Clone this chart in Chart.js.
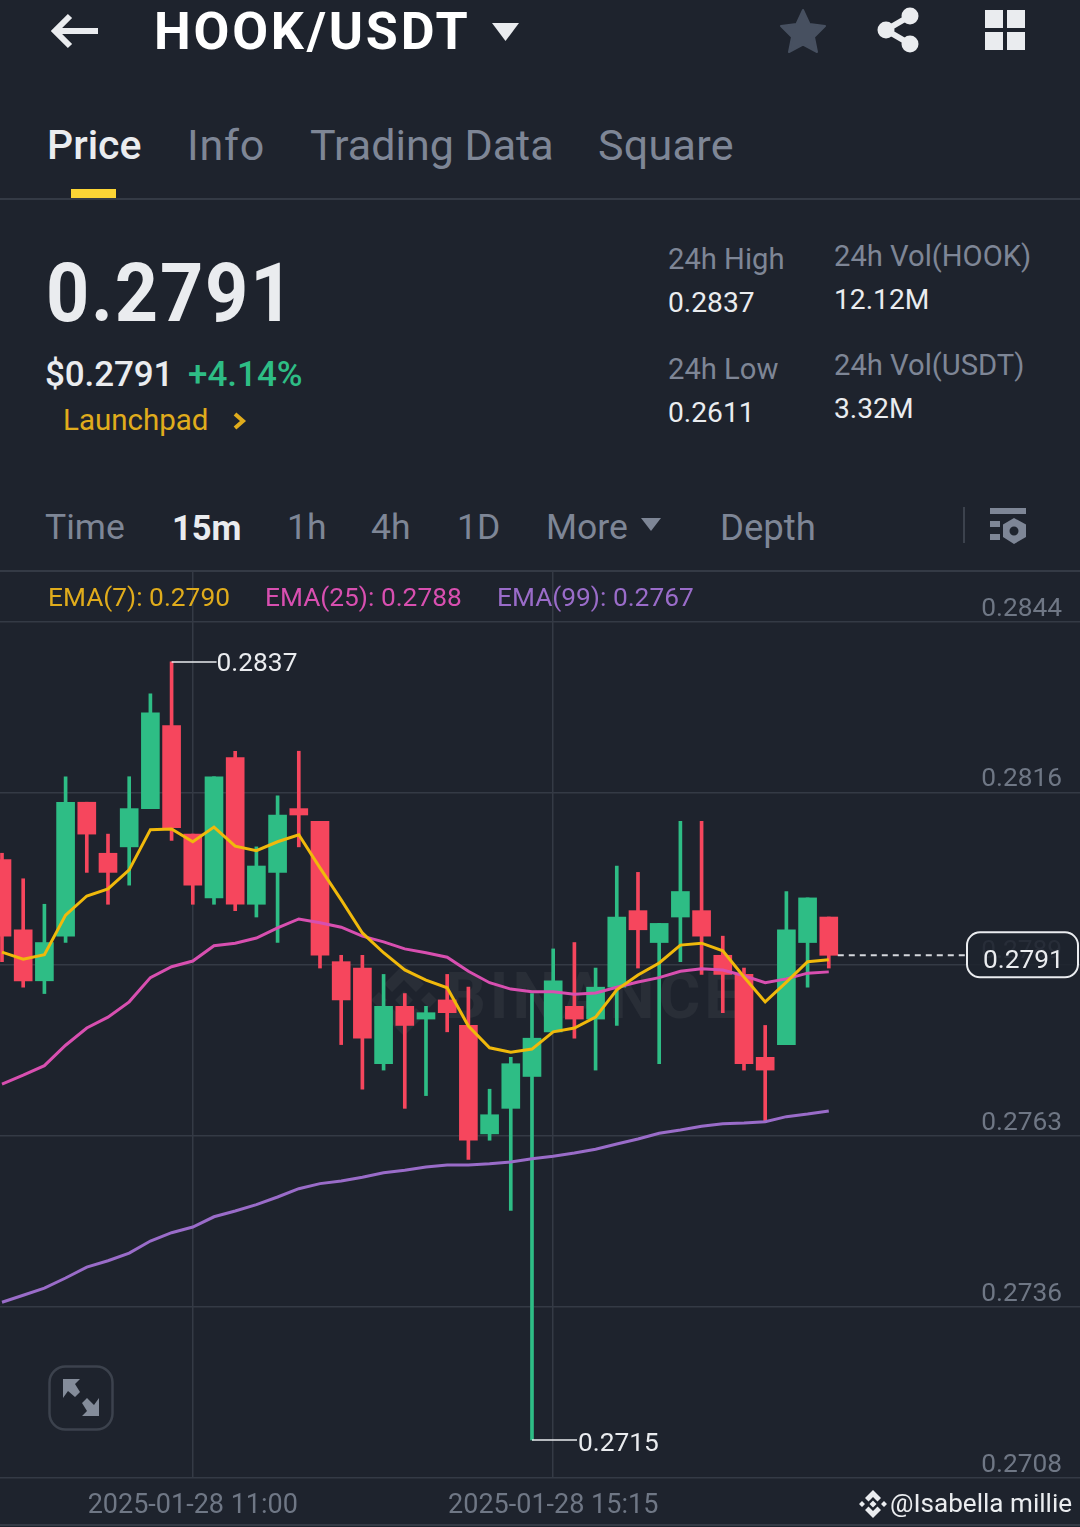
<!DOCTYPE html>
<html>
<head>
<meta charset="utf-8">
<title>HOOK/USDT</title>
<script src="https://cdn.jsdelivr.net/npm/chart.js@4"></script>
<style>
	html, body { margin: 0; padding: 0; background: #1e232d; }
	body { position: relative; width: 1080px; height: 1527px; overflow: hidden; font-family: Roboto, sans-serif; }
	.t { position: absolute; white-space: nowrap; line-height: 1; transform: translateY(-50%); }
	.line { position: absolute; left: 0; width: 1080px; height: 2px; background: #343a45; }
	.grey { color: #7e8696; }
	.light { color: #eaecef; }
	svg { position: absolute; }
	#chartBox { position: absolute; left: 0; top: 572px; width: 1080px; height: 955px; }
</style>
</head>
<body>

<svg style="left:50px;top:12px" width="50" height="38" viewBox="0 0 50 38"><path d="M20 4 L5 19 L20 34 M6 19 H48" fill="none" stroke="#eaecef" stroke-width="6"/></svg>
<div class="t" style="left:154px;top:32px;font-size:52px;font-weight:700;color:#fff;letter-spacing:2.8px">HOOK/USDT</div>
<svg style="left:490px;top:20px" width="32" height="24"><path d="M2 3 H29 L15.5 21 Z" fill="#eaecef"/></svg>
<svg style="left:778px;top:8px" width="50" height="46" viewBox="0 0 50 46"><path d="M25 2 L31.5 16 L47 18 L36 29 L39 44 L25 36.5 L11 44 L14 29 L3 18 L18.5 16 Z" fill="#475060" stroke="#475060" stroke-width="2" stroke-linejoin="round"/></svg>
<svg style="left:876px;top:6px" width="46" height="48"><path d="M34 10 L10 24 L34 38" fill="none" stroke="#eaecef" stroke-width="6"/><circle cx="34" cy="10" r="8.5" fill="#eaecef"/><circle cx="10" cy="24" r="8.5" fill="#eaecef"/><circle cx="34" cy="38" r="8.5" fill="#eaecef"/></svg>
<svg style="left:985px;top:10px" width="41" height="41"><rect x="0" y="0" width="18" height="18" fill="#eaecef"/><rect x="22" y="0" width="18" height="18" fill="#eaecef"/><rect x="0" y="22" width="18" height="18" fill="#eaecef"/><rect x="22" y="22" width="18" height="18" fill="#eaecef"/></svg>

<div class="t" style="left:47px;top:145px;font-size:41px;font-weight:500;color:#eaecef">Price</div>
<div class="t grey" style="left:187px;top:145px;font-size:43px;letter-spacing:0.8px">Info</div>
<div class="t grey" style="left:310px;top:145px;font-size:43px">Trading Data</div>
<div class="t grey" style="left:598px;top:145px;font-size:43px;letter-spacing:0.3px">Square</div>
<div style="position:absolute;left:71px;top:189px;width:45px;height:9px;background:#fcd535"></div>
<div class="line" style="top:198px"></div>

<div class="t" style="left:46px;top:293px;font-size:82px;font-weight:700;color:#eaecef;letter-spacing:2px;transform-origin:left center;transform:translateY(-50%) scaleX(0.92)">0.2791</div>
<div class="t light" style="left:45px;top:374px;font-size:35px;font-weight:500;letter-spacing:-0.1px">$0.2791</div>
<div class="t" style="left:188px;top:374px;font-size:35px;font-weight:500;color:#2ebd85">+4.14%</div>
<div class="t" style="left:63px;top:421px;font-size:29.5px;color:#e0ac1c">Launchpad</div>
<svg style="left:232px;top:411px" width="16" height="20"><path d="M3 3 L11 10 L3 17" fill="none" stroke="#e0ac1c" stroke-width="4"/></svg>

<div class="t grey" style="left:668px;top:260px;font-size:29.2px">24h High</div>
<div class="t light" style="left:668px;top:303px;font-size:28.2px">0.2837</div>
<div class="t grey" style="left:668px;top:370px;font-size:29.2px">24h Low</div>
<div class="t light" style="left:668px;top:413px;font-size:28.2px">0.2611</div>
<div class="t grey" style="left:834px;top:257px;font-size:29.2px">24h Vol(HOOK)</div>
<div class="t light" style="left:834px;top:300px;font-size:28.2px">12.12M</div>
<div class="t grey" style="left:834px;top:366px;font-size:29.2px">24h Vol(USDT)</div>
<div class="t light" style="left:834px;top:409px;font-size:28.2px">3.32M</div>

<div class="t grey" style="left:45px;top:528px;font-size:35.5px">Time</div>
<div class="t light" style="left:172px;top:528px;font-size:34.5px;font-weight:700">15m</div>
<div class="t grey" style="left:287px;top:528px;font-size:35.5px">1h</div>
<div class="t grey" style="left:371px;top:528px;font-size:35.5px">4h</div>
<div class="t grey" style="left:457px;top:528px;font-size:35.5px">1D</div>
<div class="t grey" style="left:546px;top:528px;font-size:35.5px">More</div>
<svg style="left:640px;top:517px" width="22" height="16"><path d="M1 1 H21 L11 14 Z" fill="#7e8696"/></svg>
<div class="t grey" style="left:720px;top:528px;font-size:36.5px">Depth</div>
<div style="position:absolute;left:963px;top:507px;width:2px;height:36px;background:#3c424d"></div>
<svg style="left:990px;top:507px" width="38" height="38"><rect x="0" y="1" width="36" height="6" fill="#7e8696"/><rect x="0" y="14" width="10" height="6" fill="#7e8696"/><rect x="0" y="27" width="10" height="6" fill="#7e8696"/><path d="M24 11 L36 17.5 V30 L24 37 L13 30 V17.5 Z M24 19.5 A4.5 4.5 0 1 0 24 28.5 A4.5 4.5 0 1 0 24 19.5 Z" fill="#7e8696" fill-rule="evenodd"/></svg>

<div class="line" style="top:570px"></div>

<div id="chartBox"><canvas id="canvasCandles" width="1080" height="955"></canvas></div>

<div class="t" style="left:48px;top:597px;font-size:26.3px;color:#e0ac1c">EMA(7): 0.2790</div>
<div class="t" style="left:265px;top:597px;font-size:26.3px;color:#d84fb0">EMA(25): 0.2788</div>
<div class="t" style="left:497px;top:597px;font-size:26.3px;color:#9a6cc9">EMA(99): 0.2767</div>

<svg style="left:48px;top:1365px" width="66" height="66"><rect x="1.5" y="1.5" width="63" height="63" rx="16" fill="none" stroke="#3c424d" stroke-width="2.5"/><path d="M15 14 H32 L27 19 L32 27 L27 32 L20 26 L15 33 Z M51 51 H34 L39 46 L34 38 L39 33 L46 40 L51 33 Z" fill="#848c9a"/></svg>

<svg style="left:858px;top:1489px" width="30" height="30"><path d="M15 1 L23 9 L19.5 12.5 L15 8 L10.5 12.5 L7 9 Z M15 29 L23 21 L19.5 17.5 L15 22 L10.5 17.5 L7 21 Z M15 11.5 L18.5 15 L15 18.5 L11.5 15 Z M4 12 L7 15 L4 18 L1 15 Z M26 12 L29 15 L26 18 L23 15 Z" fill="#eaecef"/></svg>
<div class="t light" style="left:890px;top:1503px;font-size:26.1px">@Isabella millie</div>
<div class="line" style="top:1524px"></div>

<script>
"use strict"

// one candle per 15m, first one 2025-01-28 08:45
const candleIndex = [0,1,2,3,4,5,6,7,8,9,10,11,12,13,14,15,16,17,18,19,20,21,22,23,24,25,26,27,28,29,30,31,32,33,34,35,36,37,38,39]
const opens = [0.2806,0.2795,0.2787,0.2794,0.2815,0.2807,0.2808,0.2814,0.2827,0.2810,0.2800,0.2822,0.2799,0.2804,0.2814,0.2812,0.2790,0.2789,0.2774,0.2783,0.2781,0.2784,0.2780,0.2763,0.2767,0.2772,0.2779,0.2783,0.2781,0.2786,0.2798,0.2793,0.2797,0.2798,0.2791,0.2788,0.2775,0.2777,0.2793,0.2797]
const highs = [0.2807,0.2803,0.2799,0.2819,0.2815,0.2810,0.2819,0.2832,0.2837,0.2810,0.2819,0.2823,0.2808,0.2816,0.2823,0.2812,0.2791,0.2791,0.2788,0.2785,0.2783,0.2788,0.2786,0.2770,0.2775,0.2785,0.2792,0.2793,0.2789,0.2805,0.2804,0.2796,0.2812,0.2812,0.2794,0.2789,0.2780,0.2801,0.2800,0.2797]
const lows = [0.2790,0.2786,0.2785,0.2793,0.2804,0.2799,0.2802,0.2814,0.2809,0.2799,0.2799,0.2798,0.2797,0.2793,0.2808,0.2789,0.2777,0.2770,0.2773,0.2767,0.2769,0.2779,0.2759,0.2762,0.2751,0.2715,0.2779,0.2778,0.2773,0.2780,0.2789,0.2774,0.2790,0.2788,0.2782,0.2773,0.2765,0.2777,0.2786,0.2789]
const closes = [0.2794,0.2787,0.2793,0.2815,0.2810,0.2804,0.2814,0.2829,0.2811,0.2802,0.2819,0.2799,0.2805,0.2813,0.2813,0.2791,0.2784,0.2778,0.2783,0.2780,0.2782,0.2782,0.2762,0.2766,0.2774,0.2778,0.2787,0.2781,0.2786,0.2797,0.2795,0.2796,0.2801,0.2794,0.2788,0.2774,0.2773,0.2795,0.2800,0.2791]

const ema7 = [0.27915,0.27904,0.27911,0.27973,0.28003,0.28014,0.28044,0.28107,0.28108,0.28088,0.28111,0.28081,0.28074,0.28088,0.28099,0.28047,0.27997,0.27945,0.27914,0.27887,0.27871,0.27859,0.27799,0.27765,0.27758,0.27763,0.27790,0.27796,0.27813,0.27856,0.27879,0.27898,0.27926,0.27929,0.27917,0.27876,0.27837,0.27868,0.27900,0.27903]
const ema25 = [0.27708,0.27722,0.27737,0.27769,0.27796,0.27813,0.27837,0.27875,0.27892,0.27901,0.27925,0.27929,0.27937,0.27953,0.27967,0.27961,0.27954,0.27940,0.27931,0.27920,0.27914,0.27907,0.27885,0.27867,0.27857,0.27853,0.27853,0.27849,0.27851,0.27860,0.27868,0.27875,0.27885,0.27889,0.27887,0.27878,0.27867,0.27873,0.27882,0.27884]
const ema99 = [0.27366,0.27377,0.27388,0.27404,0.27421,0.27431,0.27443,0.27462,0.27475,0.27484,0.27500,0.27509,0.27519,0.27531,0.27544,0.27552,0.27556,0.27562,0.27569,0.27573,0.27578,0.27581,0.27581,0.27583,0.27586,0.27591,0.27595,0.27600,0.27606,0.27614,0.27622,0.27631,0.27636,0.27642,0.27646,0.27647,0.27649,0.27657,0.27661,0.27666]

const priceTicks = [0.284327,0.281646,0.278949,0.276267,0.273586,0.270904]
const priceTickLabels = ['0.2844','0.2816','0.2789','0.2763','0.2736','0.2708']
const timeTicks = [9,26]
const timeTickLabels = ['2025-01-28 11:00','2025-01-28 15:15']

const highIndex = 8
const highLabel = '0.2837'
const lowIndex = 25
const lowLabel = '0.2715'
const lastPrice = 0.2791
const lastLabel = '0.2791'

const upColor = '#2ebd85'
const downColor = '#f6465d'
const gridColor = '#343a45'
const tickColor = '#6f7785'
const fontName = 'Roboto, sans-serif'

function CandleColors() {
	return candleIndex.map(function (i) {
		return closes[i] >= opens[i] ? upColor : downColor
	})
}

function EmaDataset(values, color) {
	return {
		type: 'line',
		data: candleIndex.map(function (i) { return { x: i, y: values[i] } }),
		borderColor: color,
		borderWidth: 3,
		pointRadius: 0,
		tension: 0,
		order: 1
	}
}

// watermark under the candles, price labels on top
const overlayPlugin = {
	id: 'overlay',
	beforeDatasetsDraw: function (chart) {
		const ctx = chart.ctx
		ctx.save()
		ctx.fillStyle = 'rgba(255,255,255,0.05)'
		ctx.font = '700 64px ' + fontName
		ctx.letterSpacing = '4px'
		ctx.textBaseline = 'middle'
		ctx.fillText('BINANCE', 445, 430)
		ctx.translate(404, 428)
		const logo = new Path2D('M0 -36 L20 -16 L12 -8 L0 -20 L-12 -8 L-20 -16 Z M0 36 L20 16 L12 8 L0 20 L-12 8 L-20 16 Z M0 -9 L9 0 L0 9 L-9 0 Z M-25 -8 L-17 0 L-25 8 L-33 0 Z M25 -8 L33 0 L25 8 L17 0 Z')
		ctx.fill(logo)
		ctx.restore()
	},
	afterDraw: function (chart) {
		const ctx = chart.ctx
		const x = chart.scales.x
		const y = chart.scales.y
		ctx.save()
		ctx.font = '26.3px ' + fontName
		ctx.textBaseline = 'middle'
		ctx.strokeStyle = '#eaecef'
		ctx.fillStyle = '#eaecef'
		ctx.lineWidth = 1.5

		let px = x.getPixelForValue(highIndex)
		let py = y.getPixelForValue(highs[highIndex])
		ctx.beginPath()
		ctx.moveTo(px, py)
		ctx.lineTo(px + 45, py)
		ctx.stroke()
		ctx.fillText(highLabel, px + 45, py + 3)

		px = x.getPixelForValue(lowIndex)
		py = y.getPixelForValue(lows[lowIndex])
		ctx.beginPath()
		ctx.moveTo(px, py)
		ctx.lineTo(px + 45, py)
		ctx.stroke()
		ctx.fillText(lowLabel, px + 46, py + 4)

		px = x.getPixelForValue(candleIndex.length - 1) + 9
		py = y.getPixelForValue(lastPrice)
		ctx.lineWidth = 2
		ctx.strokeStyle = '#d5d8dd'
		ctx.setLineDash([6, 5])
		ctx.beginPath()
		ctx.moveTo(px, py)
		ctx.lineTo(966, py)
		ctx.stroke()
		ctx.setLineDash([])

		ctx.beginPath()
		ctx.roundRect(967, py - 23, 111, 45, 13)
		ctx.fillStyle = 'rgba(30,35,45,0.88)'
		ctx.fill()
		ctx.strokeStyle = '#eaecef'
		ctx.stroke()
		ctx.fillStyle = '#eaecef'
		ctx.fillText(lastLabel, 983, py + 6)
		ctx.restore()
	}
}

const context = document.getElementById('canvasCandles').getContext('2d')
const myChart = new Chart(context, {
	type: 'bar',
	data: {
		datasets: [
			EmaDataset(ema7, '#f0b90b'),
			EmaDataset(ema25, '#d84fb0'),
			EmaDataset(ema99, '#9a6cc9'),
			{
				label: 'Wicks',
				data: candleIndex.map(function (i) { return { x: i, y: [lows[i], highs[i]] } }),
				backgroundColor: CandleColors(),
				barThickness: 3,
				grouped: false,
				order: 3
			},
			{
				label: 'Bodies',
				data: candleIndex.map(function (i) { return { x: i, y: [Math.min(opens[i], closes[i]), Math.max(opens[i], closes[i])] } }),
				backgroundColor: CandleColors(),
				barThickness: 18,
				grouped: false,
				order: 2
			}
		]
	},
	options: {
		responsive: false,
		animation: false,
		devicePixelRatio: 1,
		layout: { padding: 0 },
		plugins: {
			legend: { display: false },
			tooltip: { enabled: false }
		},
		scales: {
			x: {
				type: 'linear',
				offset: false,
				min: -0.094,
				max: 50.85,
				grid: { color: gridColor, lineWidth: 1.5, offset: false, drawTicks: false },
				border: { display: false },
				afterBuildTicks: function (scale) {
					scale.ticks = timeTicks.map(function (v) { return { value: v } })
				},
				afterFit: function (scale) {
					scale.height = 49
					scale.paddingLeft = 0
					scale.paddingRight = 0
				},
				ticks: {
					color: tickColor,
					font: { family: fontName, size: 27 },
					padding: 12,
					autoSkip: false,
					maxRotation: 0,
					callback: function (value, index) { return timeTickLabels[index] }
				}
			},
			y: {
				position: 'right',
				min: 0.270904,
				max: 0.28511,
				grid: { color: gridColor, lineWidth: 1.5, drawTicks: false },
				border: { display: false },
				afterBuildTicks: function (scale) {
					scale.ticks = priceTicks.map(function (v) { return { value: v } })
				},
				afterFit: function (scale) {
					scale.width = 0
					scale.paddingTop = 0
					scale.paddingBottom = 0
				},
				ticks: {
					color: tickColor,
					font: { family: fontName, size: 26.3 },
					mirror: true,
					padding: -18,
					labelOffset: -13,
					callback: function (value, index) { return priceTickLabels[index] }
				}
			}
		}
	},
	plugins: [overlayPlugin]
})
</script>
</body>
</html>
